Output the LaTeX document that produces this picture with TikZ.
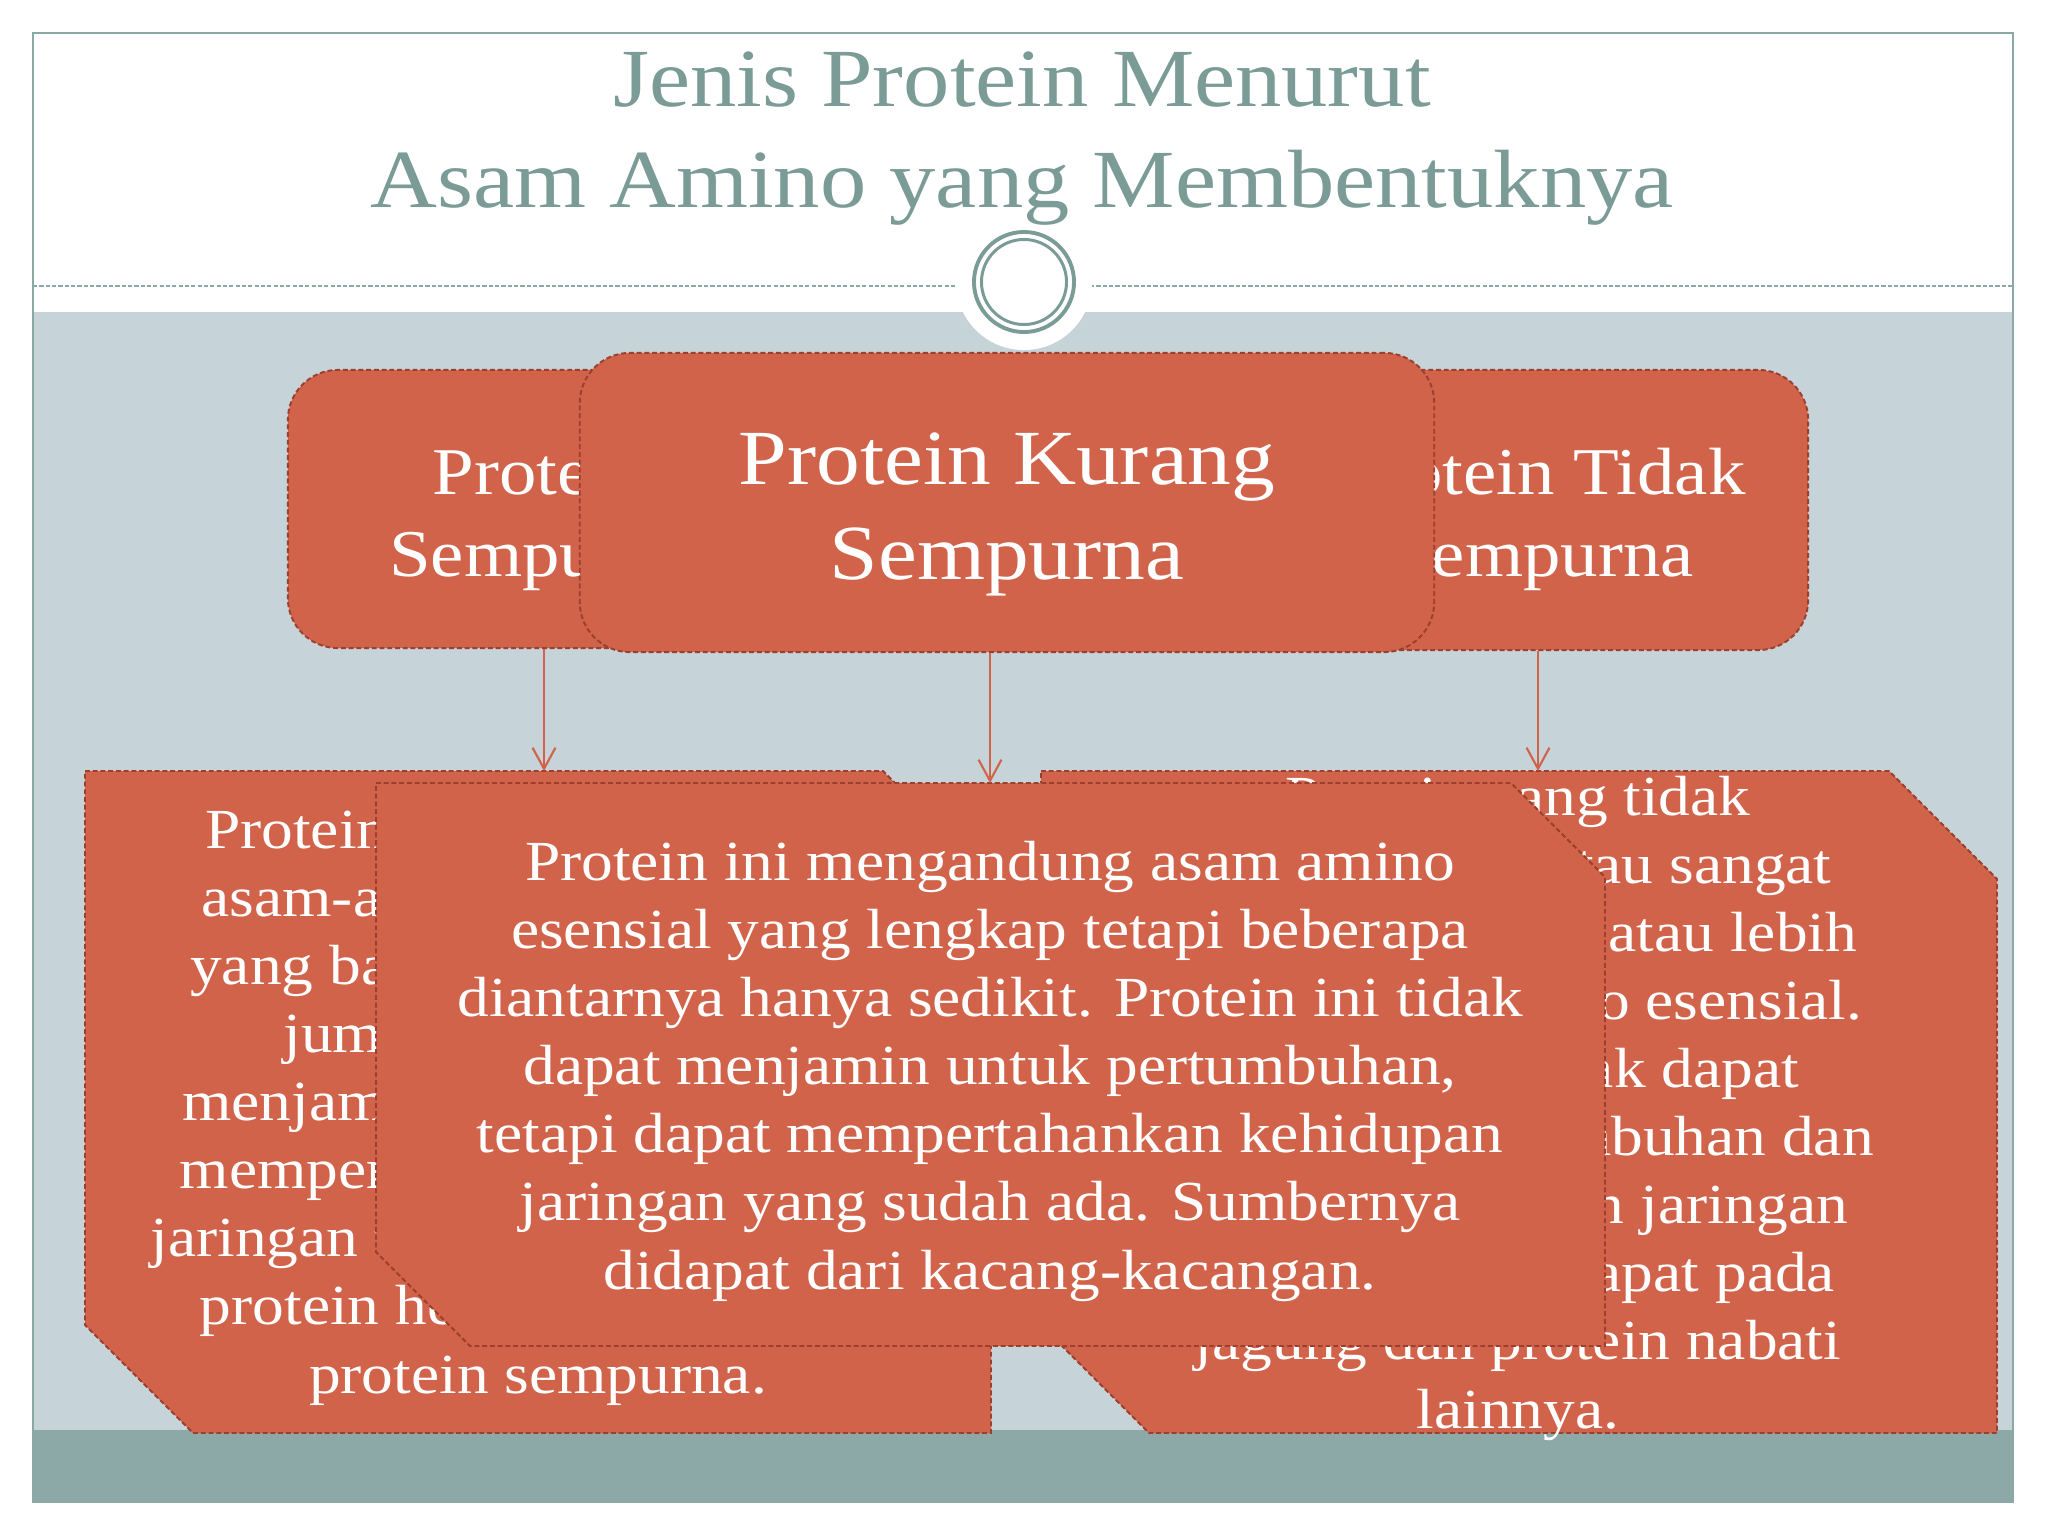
\documentclass[tikz,border=0pt]{standalone}
\usepackage{fontspec}
\setmainfont[FakeStretch=1.12]{Liberation Serif}
\usetikzlibrary{arrows.meta}

\definecolor{boxred}{HTML}{D1634A}
\definecolor{boxline}{HTML}{9C3F2E}
\definecolor{panelbg}{HTML}{C6D3D9}
\definecolor{bandteal}{HTML}{8CA9A8}
\definecolor{framec}{HTML}{8AA8A4}
\definecolor{titlec}{HTML}{7B9B96}

\begin{document}
\begin{tikzpicture}[x=0.01cm, y=-0.01cm,
    topbox/.style={draw=boxline, fill=boxred, dash pattern=on 1.4pt off 0.8pt,
        line width=0.55pt, rounded corners=0.5cm},
    lowbox/.style={draw=boxline, fill=boxred, dash pattern=on 1.4pt off 0.8pt,
        line width=0.55pt},
    arr/.style={draw=boxred, line width=0.6pt, -{Straight Barb[length=6pt,width=6.5pt]}},
    titletext/.style={text=titlec, align=center, anchor=base,
        font=\fontsize{23.5pt}{28.7pt}\selectfont},
    toptext/.style={text=white, align=center, anchor=base,
        font=\fontsize{19pt}{23.3pt}\selectfont},
    midtext/.style={text=white, align=center, anchor=base,
        font=\fontsize{22.2pt}{27pt}\selectfont},
    lowtext/.style={text=white, align=center, anchor=base,
        font=\fontsize{16.1pt}{19.35pt}\selectfont}
]
    \useasboundingbox (0,0) rectangle (2048,1536);
    \fill[white] (0,0) rectangle (2048,1536);

    % slide background
    \fill[white] (33,33) rectangle (2013,312);
    \fill[panelbg] (33,312) rectangle (2013,1430);
    \fill[bandteal] (33,1430) rectangle (2013,1502);
    \draw[framec, line width=0.6pt] (33,33) rectangle (2013,1502);
    \draw[framec, line width=0.45pt, dash pattern=on 1.2pt off 0.6pt] (33,286) -- (2013,286);
    \fill[white] (1024,282) circle (0.68cm);
    \draw[titlec, line width=1.1pt] (1024,282) circle (0.50cm);
    \draw[titlec, line width=0.85pt] (1024,282) circle (0.425cm);

    % anchor=base sits on the last line
    \node[titletext] (title) at (1022,207) {Jenis Protein Menurut\\Asam Amino yang Membentuknya};

    % upper boxes
    \node[topbox, minimum width=5.12cm, minimum height=2.78cm] (tl) at (544,509) {};
    \node[toptext] (tlt) at (541,576) {Protein\\Sempurna};
    \node[topbox, minimum width=5.4cm, minimum height=2.8cm] (tr) at (1538,510) {};
    \node[toptext] (trt) at (1542,576) {Protein Tidak\\Sempurna};
    \node[topbox, minimum width=8.54cm, minimum height=2.99cm] (tm) at (1007,502.5) {};
    \node[midtext] (tmt) at (1007,579) {Protein Kurang\\Sempurna};

    % lower boxes
    \draw[lowbox] (85,771) -- (883,771) -- (991,879) -- (991,1433) -- (193,1433) -- (85,1325) -- cycle;
    \node[lowtext] (llt) at (538,1393) {Protein yang mengandung\\asam-asam amino esensial\\yang baik jenisnya maupun\\jumlahnya sehingga\\menjamin pertumbuhan dan\\mempertahankan kehidupan\\jaringan tubuhnya. Contohnya\\protein hewani merupakan\\protein sempurna.};
    \draw[lowbox] (1041,771) -- (1889,771) -- (1997,879) -- (1997,1433) -- (1149,1433) -- (1041,1325) -- cycle;
    \node[lowtext] (lrt) at (1518,1428) {Protein yang tidak\\mengandung atau sangat\\kekurangan satu atau lebih\\asam-asam amino esensial.\\Protein ini tidak dapat\\menjamin pertumbuhan dan\\mempertahankan jaringan\\Contohnya terdapat pada\\jagung dan protein nabati\\lainnya.};
    \draw[lowbox] (376,783) -- (1511,783) -- (1605,877) -- (1605,1346) -- (470,1346) -- (376,1252) -- cycle;
    \node[lowtext] (lmt) at (990,1289) {Protein ini mengandung asam amino\\esensial yang lengkap tetapi beberapa\\diantarnya hanya sedikit. Protein ini tidak\\dapat menjamin untuk pertumbuhan,\\tetapi dapat mempertahankan kehidupan\\jaringan yang sudah ada. Sumbernya\\didapat dari kacang-kacangan.};

    % arrows
    \coordinate (lin) at (544,771);
    \coordinate (min) at (990,783);
    \coordinate (rin) at (1538,771);
    \draw[arr] (tl.south) -- (lin);
    \draw[arr] (tm.south -| min) -- (min);
    \draw[arr] (tr.south) -- (rin);
\end{tikzpicture}
\end{document}
